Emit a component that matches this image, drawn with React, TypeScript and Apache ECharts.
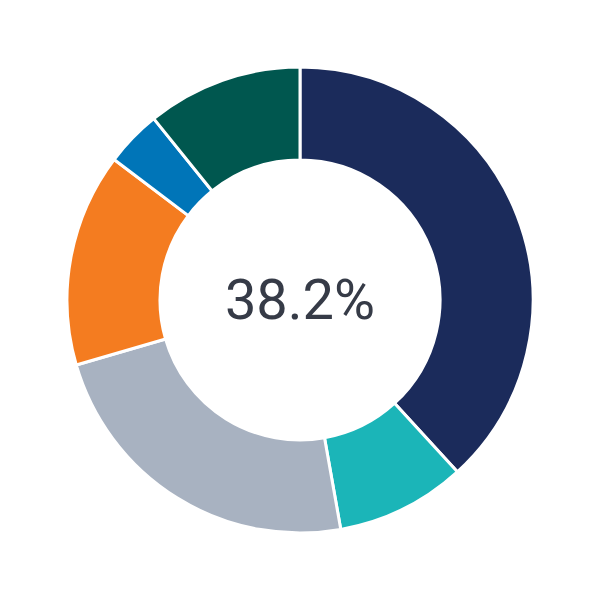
import React, { useEffect, useRef } from "react";
import * as echarts from "echarts";

const labels = ["Navy", "Teal", "Gray", "Orange", "Blue", "Green"];
const values = [38.2, 9.0, 23.3, 14.8, 3.9, 10.8];
const colors = ["#1b2b5b", "#1bb5b8", "#a8b2c1", "#f47c20", "#0075b8", "#00574f"];
const centerLabel = "38.2%";

const App = () => {
  const chartRef = useRef<HTMLDivElement>(null);

  useEffect(() => {
    document.body.style.margin = "0";
    if (!chartRef.current) return;
    const chart = echarts.init(chartRef.current, null, { renderer: "svg" });

    chart.setOption({
      animation: false,
      graphic: [
        {
          type: "text",
          left: "center",
          top: "middle",
          style: {
            text: centerLabel,
            fontSize: 56,
            fontFamily: "Roboto, sans-serif",
            fill: "#363b47",
          },
        },
      ],
      series: [
        {
          type: "pie",
          center: [300, 300],
          radius: [140, 233],
          startAngle: 90,
          clockwise: true,
          label: { show: false },
          labelLine: { show: false },
          itemStyle: { borderColor: "#fff", borderWidth: 3 },
          data: labels.map((name, i) => ({
            name,
            value: values[i],
            itemStyle: { color: colors[i] },
          })),
        },
      ],
    });

    return () => chart.dispose();
  }, []);

  return <div ref={chartRef} style={{ width: "600px", height: "600px" }} />;
};

export default App;
